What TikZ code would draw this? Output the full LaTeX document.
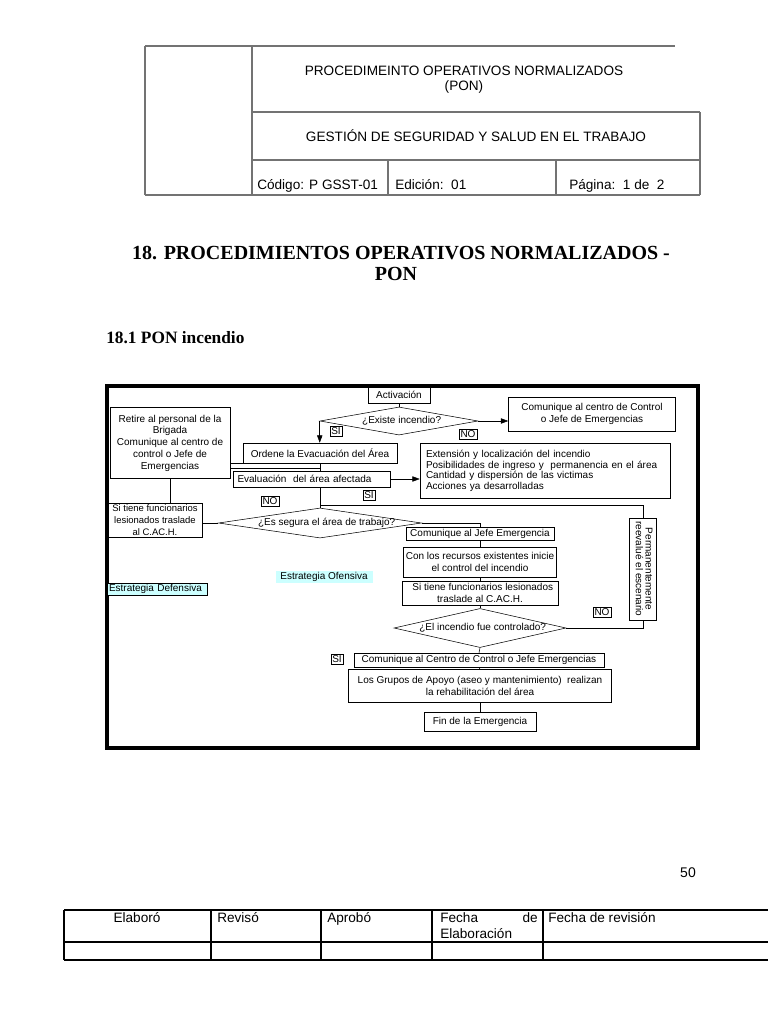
\documentclass[tikz,border=0pt]{standalone}
\usepackage{fontspec}
\setmainfont{Liberation Sans}
\newfontfamily\tnr{Liberation Serif}
\usetikzlibrary{shapes.geometric,arrows.meta}
\definecolor{cyanlt}{HTML}{CCFFFF}
\definecolor{hdrline}{gray}{0.45}
\newcommand\flowfont{\fontsize{7.5}{8.8}\selectfont}
\newcommand\docfont{\fontsize{10.2}{12}\selectfont}
\begin{document}
\begin{tikzpicture}[x=0.75pt,y=-0.75pt,
  bx/.style 2 args={draw, minimum width=#1*0.75pt, minimum height=#2*0.75pt, inner sep=1pt, align=center, font=\flowfont},
  dia/.style 2 args={diamond, draw, minimum width=#1*0.75pt, minimum height=#2*0.75pt, inner sep=0pt, aspect=1, font=\flowfont},
  lbl/.style={draw, inner sep=1pt, font=\flowfont, minimum height=10*0.75pt},
  arr/.style={-{Triangle[length=5.5pt,width=4pt]}},
  hl/.style={draw=hdrline, line width=0.8pt},
  doc/.style={font=\docfont, inner sep=0pt}
]
\useasboundingbox (0,0) rectangle (768,1024);
\fill[white] (0,0) rectangle (768,1024);

% ---------- header table ----------
\draw[hl] (145,46) -- (675,46);
\draw[hl] (145,46) -- (145,195);
\draw[hl] (252,46) -- (252,195);
\draw[hl] (252,112) -- (700,112);
\draw[hl] (252,160) -- (700,160);
\draw[hl] (700,112) -- (700,195);
\draw[hl] (252,195) -- (700,195);
\draw[draw=hdrline, line width=1.5pt] (145,195) -- (252,195);
\draw[hl] (388,160) -- (388,195);
\draw[hl] (556,160) -- (556,195);
\node[doc] (h1) at (464,71) {PROCEDIMEINTO OPERATIVOS NORMALIZADOS};
\node[doc] (h2) at (464,87) {(PON)};
\node[doc] (h3) at (476,136) {GESTIÓN DE SEGURIDAD Y SALUD EN EL TRABAJO};
\node[doc, anchor=base west] (h4) at (257,189) {Código: P GSST-01};
\node[doc, anchor=base west] (h5) at (395,189) {Edición:\ \ 01};
\node[doc, anchor=base west] (h6) at (569,189) {Página:\ \ 1 de\ \ 2};

% ---------- titles ----------
\node[inner sep=0pt, font=\tnr\bfseries\fontsize{15}{16}\selectfont] (t1) at (401,253) {18. PROCEDIMIENTOS OPERATIVOS NORMALIZADOS -};
\node[inner sep=0pt, font=\tnr\bfseries\fontsize{15}{16}\selectfont] (t2) at (396,274) {PON};
\node[inner sep=0pt, anchor=west, font=\tnr\bfseries\fontsize{13}{15}\selectfont] (t3) at (106,338) {18.1 PON incendio};

% ---------- flowchart frame ----------
\draw[line width=2.4pt] (107,386) rectangle (698,748);

% ---------- flowchart nodes ----------
\node[bx={62}{17}] (act) at (399,395) {Activación};
\node[dia={158}{28}] (d1) at (399,421) {\makebox[0pt]{\raisebox{2pt}{\hspace{4pt}¿Existe incendio?}}};
\node[bx={167}{34}] (ccc) at (592,414) {Comunique al centro de Control\\o Jefe de Emergencias};
\node[lbl] (no1) at (468,434) {NO};
\node[lbl] (si1) at (336,431) {SI};
\node[bx={154}{20}] (ord) at (320,453) {Ordene la Evacuación del Área};
\node[bx={120}{71}] (ret) at (170,443) {Retire al personal de la\\Brigada\\Comunique al centro de\\control o Jefe de\\Emergencias};
\node[bx={157}{16}, text width=149*0.75pt, align=left, inner sep=3pt] (eva) at (312,479) {Evaluación\ \ del área afectada};
\node[bx={250}{55}, text width=238*0.75pt, align=left, inner sep=4pt, font=\fontsize{7.5}{8}\selectfont] (info) at (545,471) {Extensión y localización del incendio\\Posibilidades de ingreso y\ \ permanencia en el área\\Cantidad y dispersión de las victimas\\Acciones ya desarrolladas};
\node[lbl] (si2) at (369,495) {SI};
\node[lbl] (no2) at (270,501) {NO};
\node[dia={203}{30}] (d2) at (320,523) {\makebox[0pt]{\raisebox{1pt}{\hspace{10pt}¿Es segura el área de trabajo?}}};
\node[bx={95}{34}, inner sep=0pt, font=\fontsize{7.1}{8.8}\selectfont] (lesL) at (155,520) {Si tiene funcionarios\\lesionados traslade\\al C.AC.H.};
\node[bx={148}{13}] (cje) at (480,534) {Comunique al Jefe Emergencia};
\node[bx={153}{30}] (rec) at (480,562) {Con los recursos existentes inicie\\el control del incendio};
\node[bx={156}{24}] (lesR) at (480,593) {\ \ Si tiene funcionarios lesionados\\traslade al C.AC.H.};
\node[dia={172}{39}] (d3) at (480,628) {\makebox[0pt]{\hspace{4pt}¿El incendio fue controlado?}};
\node[lbl] (no3) at (602,612) {NO};
\node[bx={27}{102}] (perm) at (643,569) {\rotatebox{-90}{\begin{tabular}{@{}c@{}}Permanentemente\\[-1.5pt]reevalué el escenario\end{tabular}}};
\node[bx={250}{14}] (ccj) at (479,660) {Comunique al Centro de Control o Jefe Emergencias};
\node[lbl] (si3) at (337,659) {SI};
\node[bx={263}{33}] (grp) at (480,686) {Los Grupos de Apoyo (aseo y mantenimiento)\ \ realizan\\la rehabilitación del área};
\node[bx={112}{19}] (fin) at (480,722) {Fin de la Emergencia};
\node[draw, fill=cyanlt, inner sep=1pt, font=\flowfont, minimum width=100*0.75pt, minimum height=12*0.75pt, text width=96*0.75pt, align=left] (def) at (157,589) {Estrategia Defensiva};
\node[fill=cyanlt, inner sep=1pt, font=\flowfont, minimum width=97*0.75pt, minimum height=11*0.75pt] (ofe) at (324,577) {Estrategia Ofensiva};

% ---------- connectors ----------
\coordinate (j1) at (320,468);
\coordinate (j2) at (320,505);
\draw (act.south) -- (d1.north);
\draw[arr] (d1.east) -- (d1.east -| ccc.west);
\draw[arr] (d1.west) -- (d1.west |- ord.north);
\draw (ret.east |- ord.south) -- (ord.south);
\draw (ret.east |- j1) -- (j1);
\draw (ord.south) -- (ord.south |- eva.north);
\draw[arr] (eva.east) -- (eva.east -| info.west);
\draw (ord.south |- eva.south) -- (d2.north);
\draw (j2) -| (perm.north);
\draw (perm.south) |- (d3.east);
\draw (d2.east) -| (cje.north);
\draw (cje.south) -- (rec.north);
\draw (rec.south) -- (lesR.north);
\draw (lesR.south) -- (d3.north);
\draw (d3.south) -- (ccj.north);
\draw (ccj.south) -- (grp.north);
\draw (grp.south) -- (fin.north);
\draw (ret.south) -- (ret.south |- lesL.north);
\draw (d2.west) -- (d2.west -| lesL.east);

% ---------- footer ----------
\node[doc, font=\fontsize{10.5}{12}\selectfont] (pg) at (688,873) {50};
\draw[line width=0.8pt] (64,910) -- (768,910);
\draw[line width=0.8pt] (64,942) -- (768,942);
\draw[line width=0.8pt] (64,960) -- (768,960);
\foreach \xx in {64,211,321,432,543} \draw[line width=0.8pt] (\xx,910) -- (\xx,960);
\node[doc, anchor=base] (f1) at (137,922) {Elaboró};
\node[doc, anchor=base west] (f2) at (217,922) {Revisó};
\node[doc, anchor=base west] (f3) at (327,922) {Aprobó};
\node[doc, anchor=base west] (f4) at (440,922) {Fecha};
\node[doc, anchor=base east] (f5) at (538,922) {de};
\node[doc, anchor=base west] (f6) at (440,938) {Elaboración};
\node[doc, anchor=base west] (f7) at (548,922) {Fecha de revisión};
\end{tikzpicture}
\end{document}
